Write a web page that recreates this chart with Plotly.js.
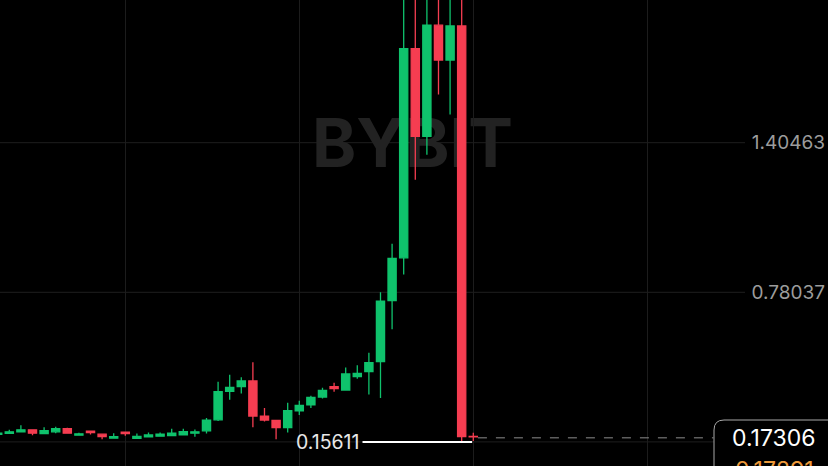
<!DOCTYPE html>
<html>
<head>
<meta charset="utf-8">
<script src="https://cdn.plot.ly/plotly-3.0.1.min.js"></script>
<style>
html,body{margin:0;padding:0;background:#000;overflow:hidden}
#chart{width:828px;height:466px}
</style>
</head>
<body>
<div id="chart"></div>
<script>
// ---- data ----
const candleIndex = [-1,0,1,2,3,4,5,6,7,8,9,10,11,12,13,14,15,16,17,18,19,20,21,22,23,24,25,26,27,28,29,30,31,32,33,34,35,36,37,38,39,40];
const openPrices  = [0.1875,0.1917,0.1980,0.2064,0.1909,0.1980,0.2118,0.1842,0.2009,0.1884,0.1716,0.1968,0.1708,0.1771,0.1800,0.1825,0.1854,0.1926,0.2022,0.2483,0.3669,0.3865,0.4104,0.2638,0.2454,0.2160,0.2860,0.3111,0.3434,0.3865,0.3727,0.4284,0.4494,0.4913,0.7456,0.9241,1.7972,1.4311,1.8949,1.7495,1.8919,0.1790];
const highPrices  = [0.1959,0.2064,0.2252,0.2085,0.2177,0.2190,0.2148,0.1938,0.2022,0.1896,0.1926,0.1980,0.1909,0.1951,0.1951,0.2106,0.2106,0.2076,0.2554,0.4075,0.4368,0.4255,0.4884,0.2973,0.2454,0.3195,0.3279,0.3488,0.3824,0.4033,0.4662,0.4758,0.5277,0.7804,0.9827,2.1500,2.2500,2.2000,2.3000,2.2800,2.2000,0.1940];
const lowPrices   = [0.1854,0.1909,0.1980,0.1842,0.1909,0.1926,0.1896,0.1842,0.1867,0.1674,0.1716,0.1813,0.1708,0.1771,0.1800,0.1825,0.1854,0.1771,0.1909,0.2428,0.3321,0.3585,0.2177,0.2412,0.1674,0.1951,0.2680,0.2973,0.3375,0.3656,0.3727,0.4201,0.3543,0.3392,0.6266,0.8545,1.2496,1.3544,1.6058,1.5220,0.15611,0.1600];
const closePrices = [0.1926,0.1980,0.2064,0.1926,0.2035,0.2118,0.1926,0.1896,0.1951,0.1783,0.1783,0.1909,0.1792,0.1854,0.1884,0.1926,0.1993,0.1980,0.2470,0.3656,0.3836,0.4104,0.2638,0.2470,0.2160,0.2860,0.3082,0.3417,0.3710,0.3782,0.4398,0.4423,0.4871,0.7439,0.9216,1.7972,1.4311,1.8949,1.7495,1.8919,0.1778,0.1770];

const priceGridValues = [2.02889, 1.40463, 0.78037, 0.15611];
const axisTickValues  = [1.40463, 0.78037];
const axisTickLabels  = ['1.40463', '0.78037'];
const topTickValue = 2.02889;
const topTickLabel = '2.02889';
const lowestPrice = 0.15611;
const lowestLabel = '0.15611';
const lastPrice = 0.17306;
const lastPriceLabel = '0.17306';
const markPriceLabel = '0.17291';
const watermarkText = 'BYBIT';

// ---- styling / layout ----
const W = 828, H = 466;
const px = x => x / W;
const py = y => 1 - y / H;
const GREEN = '#0fc26c', RED = '#f53d51';
const FONT = 'Inter, "Noto Sans", sans-serif';

const trace = {
  type: 'candlestick',
  x: candleIndex,
  open: openPrices, high: highPrices, low: lowPrices, close: closePrices,
  increasing: {line: {color: GREEN, width: 1.3}, fillcolor: GREEN},
  decreasing: {line: {color: RED, width: 1.3}, fillcolor: RED},
  whiskerwidth: 0,
  hoverinfo: 'skip',
  showlegend: false
};

const shapes = [];
priceGridValues.forEach(v => shapes.push({
  type: 'line', xref: 'paper', yref: 'y', x0: 0, x1: px(745), y0: v, y1: v,
  line: {color: '#1e1e1e', width: 1}, layer: 'below'
}));
shapes.push({
  type: 'rect', xref: 'paper', yref: 'paper', x0: px(298), x1: px(527), y0: py(176), y1: py(104),
  line: {width: 0}, fillcolor: 'rgba(0,0,0,0)', layer: 'below',
  label: {text: watermarkText, textposition: 'middle center',
          font: {family: FONT, size: 67, color: '#222222', weight: 700}}
});
shapes.push({
  type: 'line', xref: 'x', yref: 'y', x0: 30.45, x1: 39.9, y0: lowestPrice, y1: lowestPrice,
  line: {color: '#ffffff', width: 2}
});
shapes.push({
  type: 'line', xref: 'x', yref: 'y', x0: 40.4, x1: 60.7, y0: lastPrice, y1: lastPrice,
  line: {color: '#8c8c8c', width: 1, dash: 'dash'}
});
const bx = 714, by = 420, r = 10;
shapes.push({
  type: 'path', xref: 'paper', yref: 'paper',
  path: `M ${px(bx)},${py(H + 20)} L ${px(bx)},${py(by + r)} Q ${px(bx)},${py(by)} ${px(bx + r)},${py(by)} L ${px(W + 20)},${py(by)} L ${px(W + 20)},${py(H + 20)} Z`,
  fillcolor: '#000000', line: {color: '#a8a8a8', width: 1}
});

const annotations = [
  {xref: 'x', yref: 'y', x: 30.35, y: lowestPrice, xanchor: 'right', yanchor: 'middle',
   text: lowestLabel, showarrow: false, font: {family: FONT, size: 19.5, color: '#e8e8e8'}},
  {xref: 'paper', yref: 'y', x: px(774), y: lastPrice, xanchor: 'center', yanchor: 'middle',
   text: lastPriceLabel, showarrow: false, font: {family: FONT, size: 23, color: '#ffffff'}},
  {xref: 'paper', yref: 'paper', x: px(774), y: py(470), xanchor: 'center', yanchor: 'middle',
   text: markPriceLabel, showarrow: false, font: {family: FONT, size: 23, color: '#ee9a3a'}},
  {xref: 'paper', yref: 'y', x: 1, y: topTickValue, xanchor: 'right', yanchor: 'middle',
   text: topTickLabel, showarrow: false, font: {family: FONT, size: 19, color: '#9c9c9c'}}
];

const layout = {
  width: W, height: H,
  margin: {l: 0, r: 0, t: 0, b: 0, pad: 0},
  paper_bgcolor: '#000000', plot_bgcolor: '#000000',
  boxgap: 0.16, boxgroupgap: 0.16,
  showlegend: false,
  xaxis: {range: [-0.802, 70.58], showticklabels: false, showgrid: true, gridcolor: '#1c1c1c',
          tick0: 10, dtick: 15, zeroline: false, showline: false, ticks: '',
          rangeslider: {visible: false}, fixedrange: true},
  yaxis: {range: [0.05552, 2.00010], side: 'right', ticklabelposition: 'inside',
          tickvals: axisTickValues, ticktext: axisTickLabels,
          tickfont: {family: FONT, size: 19, color: '#9c9c9c'},
          showgrid: false, zeroline: false, showline: false, ticks: '', fixedrange: true},
  shapes: shapes,
  annotations: annotations
};

Plotly.newPlot('chart', [trace], layout, {staticPlot: true, displayModeBar: false});
</script>
</body>
</html>
